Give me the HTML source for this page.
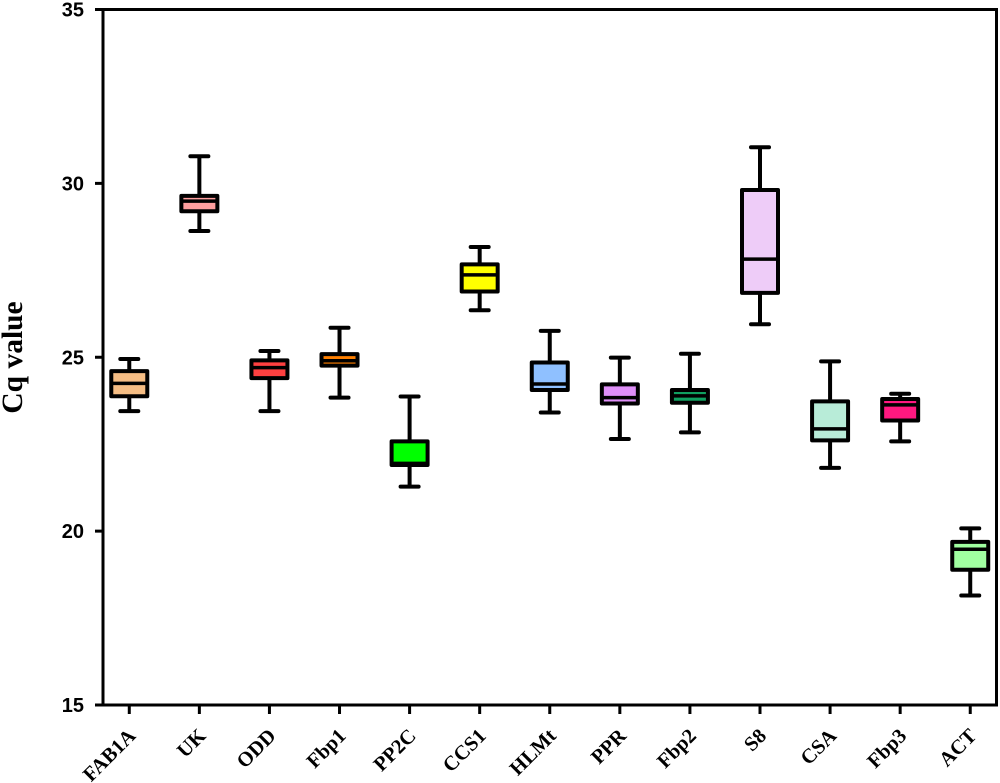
<!DOCTYPE html>
<html lang="en">
<head>
<meta charset="utf-8">
<title>Cq value box plot</title>
<style>
html,body{margin:0;padding:0;background:#fff;}
svg{display:block;}
.tick-y{font-family:"Liberation Sans",Arial,sans-serif;font-size:20px;font-weight:bold;fill:#000;}
.tick-x{font-family:"Liberation Serif","Times New Roman",serif;font-size:20.5px;font-weight:bold;fill:#000;}
.title-y{font-family:"Liberation Serif","Times New Roman",serif;font-size:29.5px;font-weight:bold;fill:#000;}
</style>
</head>
<body>
<svg id="chart" xmlns="http://www.w3.org/2000/svg" width="1000" height="783" viewBox="0 0 1000 783">
  <rect x="0" y="0" width="1000" height="783" fill="#ffffff"/>
  <text class="title-y" transform="translate(22,357.5) rotate(-90)" text-anchor="middle">Cq value</text>
</svg>
<script>
const categories = ["FAB1A","UK","ODD","Fbp1","PP2C","CCS1","HLMt","PPR","Fbp2","S8","CSA","Fbp3","ACT"];
const whiskerHigh = [24.95,30.78,25.18,25.85,23.87,28.17,25.76,24.99,25.10,31.04,24.88,23.95,20.08];
const q3Values    = [24.60,29.64,24.91,25.09,22.58,27.67,24.85,24.22,24.06,29.81,23.73,23.80,19.69];
const medians     = [24.25,29.49,24.70,24.90,21.95,27.37,24.23,23.84,23.89,27.82,22.94,23.63,19.48];
const q1Values    = [23.88,29.20,24.40,24.76,21.90,26.89,24.06,23.67,23.69,26.85,22.61,23.18,18.89];
const whiskerLow  = [23.45,28.63,23.45,23.84,21.28,26.35,23.41,22.65,22.84,25.95,21.82,22.58,18.15];
const yTickLabels = [15,20,25,30,35];
const palette = ["#f5bd84","#ff9f9f","#ff4040","#ff8000","#00ff00","#ffff00","#8fc0ff","#df8ff8","#10a060","#eeccf8","#b8ecd8","#ff1880","#a0ffa0"];

const NS = "http://www.w3.org/2000/svg";
const svg = document.getElementById("chart");
const plot = {left:103, right:996.5, top:9.5, bottom:705};
const yMin = 15, yMax = 35;
const boxHalf = 18, capHalf = 9;

function yScale(v){
  return plot.bottom - (v - yMin) / (yMax - yMin) * (plot.bottom - plot.top);
}
function xScale(i){
  return plot.left + (i + 0.375) * 70.08;
}
function line(x1,y1,x2,y2,w,cap){
  const el = document.createElementNS(NS,"line");
  el.setAttribute("x1",x1);
  el.setAttribute("y1",y1);
  el.setAttribute("x2",x2);
  el.setAttribute("y2",y2);
  el.setAttribute("stroke","#000");
  el.setAttribute("stroke-width",w);
  el.setAttribute("stroke-linecap",cap || "butt");
  return el;
}

const frame = document.createElementNS(NS,"rect");


frame.setAttribute("x",plot.left);
frame.setAttribute("y",plot.top);
frame.setAttribute("width",plot.right-plot.left);
frame.setAttribute("height",plot.bottom-plot.top);
frame.setAttribute("fill","none");
frame.setAttribute("stroke","#000");
frame.setAttribute("stroke-width","3");
svg.appendChild(frame);

yTickLabels.forEach(function(v){
  const y = yScale(v);
  const t = line(95,y,plot.left,y,3);
  
  
  svg.appendChild(t);
  const lab = document.createElementNS(NS,"text");
  
  
  lab.setAttribute("class","tick-y");
  lab.setAttribute("x",84);
  lab.setAttribute("y",y+7);
  lab.setAttribute("text-anchor","end");
  lab.textContent = v;
  svg.appendChild(lab);
});

categories.forEach(function(name,i){
  const x = xScale(i);
  const slug = name.toLowerCase();

  const t = line(x,plot.bottom,x,714,3);
  
  
  svg.appendChild(t);

  const lab = document.createElementNS(NS,"text");
  
  
  lab.setAttribute("class","tick-x");
  lab.setAttribute("text-anchor","end");
  lab.setAttribute("transform","translate("+(x+7.5)+",737) rotate(-45)");
  lab.textContent = name;
  svg.appendChild(lab);

  const g = document.createElementNS(NS,"g");
  
  

  const stem = line(x,yScale(whiskerLow[i]),x,yScale(whiskerHigh[i]),4);
  
  
  g.appendChild(stem);

  const capTop = line(x-capHalf,yScale(whiskerHigh[i]),x+capHalf,yScale(whiskerHigh[i]),4,"round");
  
  
  g.appendChild(capTop);

  const capBottom = line(x-capHalf,yScale(whiskerLow[i]),x+capHalf,yScale(whiskerLow[i]),4,"round");
  
  
  g.appendChild(capBottom);

  const box = document.createElementNS(NS,"rect");
  
  
  box.setAttribute("x",x-boxHalf);
  box.setAttribute("y",yScale(q3Values[i]));
  box.setAttribute("width",boxHalf*2);
  box.setAttribute("height",yScale(q1Values[i])-yScale(q3Values[i]));
  box.setAttribute("fill",palette[i]);
  box.setAttribute("stroke","#000");
  box.setAttribute("stroke-width","4");
  box.setAttribute("stroke-linejoin","round");
  g.appendChild(box);

  const med = line(x-boxHalf,yScale(medians[i]),x+boxHalf,yScale(medians[i]),3.5);
  
  
  g.appendChild(med);

  svg.appendChild(g);
});
</script>
</body>
</html>
